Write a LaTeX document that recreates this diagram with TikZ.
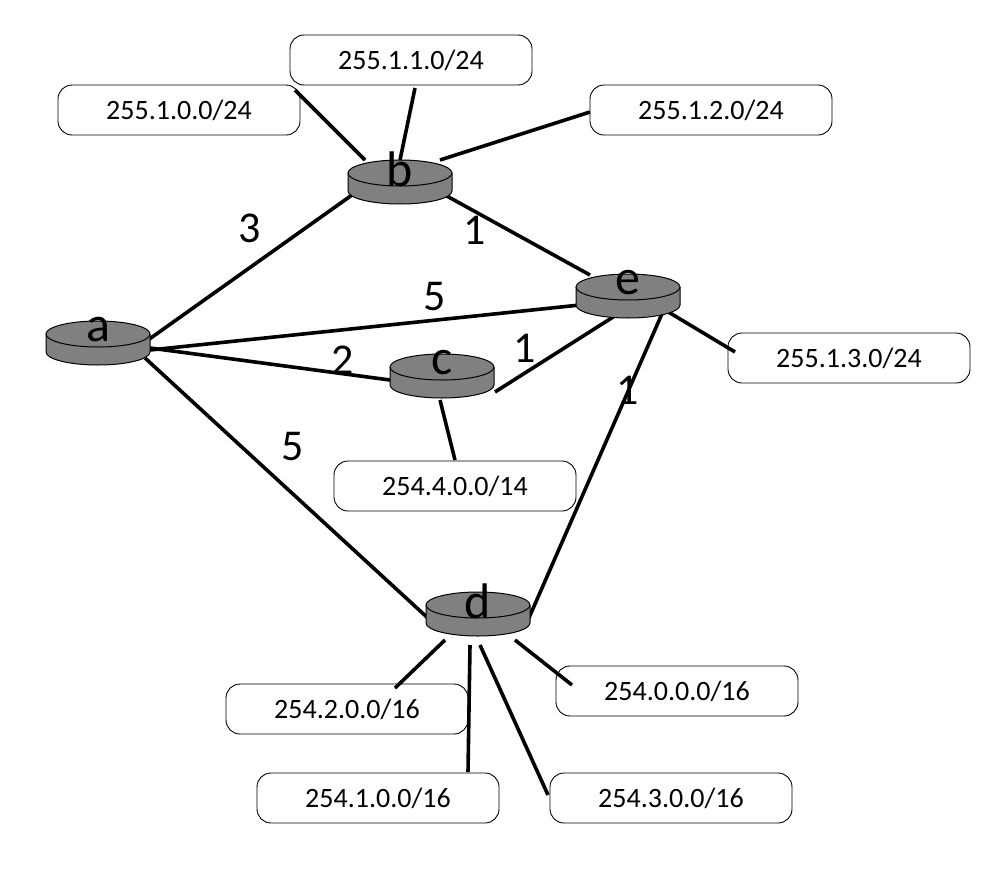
\documentclass[tikz,border=0pt]{standalone}
\usepackage{fontspec}
\setmainfont{Carlito}
\begin{document}
\begin{tikzpicture}[x=1pt,y=-1pt,
  link/.style={line width=3.6pt},
  cloudbox/.style={draw,line width=0.9pt,rounded corners=14pt,fill=white,minimum width=242pt,minimum height=50pt,font=\fontsize{28}{30}\selectfont},
  wlabel/.style={font=\fontsize{44}{46}\selectfont}]
\useasboundingbox (0,0) rectangle (992,870);
\newcommand\myrouter[4]{%
  \fill[gray] (#2-52,#3) -- (#2-52,#3+18) arc[start angle=180,end angle=360,x radius=52,y radius=-13] -- (#2+52,#3) -- cycle;
  \draw[line width=1pt] (#2-52,#3) -- (#2-52,#3+18) arc[start angle=180,end angle=360,x radius=52,y radius=-13] -- (#2+52,#3);
  \draw[line width=1pt,fill=gray] (#2,#3) ellipse[x radius=52,y radius=13];
  \node[inner sep=0,font=\fontsize{50}{52}\selectfont] (#1) at (#2,#3-4) {#4};}
% clouds
\node[cloudbox] (n10) at (179,110) {255.1.0.0/24};
\node[cloudbox] (n11) at (411,60) {255.1.1.0/24};
\node[cloudbox] (n12) at (711,110) {255.1.2.0/24};
\node[cloudbox] (n13) at (849,358) {255.1.3.0/24};
\node[cloudbox] (n44) at (455,486) {254.4.0.0/14};
\node[cloudbox] (n42) at (347,709) {254.2.0.0/16};
\node[cloudbox] (n40) at (677,691) {254.0.0.0/16};
\node[cloudbox] (n41) at (378,798) {254.1.0.0/16};
\node[cloudbox] (n43) at (671,798) {254.3.0.0/16};
% endpoints
\coordinate (a1) at (148,340); \coordinate (a2) at (150,350); \coordinate (a3) at (150,348); \coordinate (a4) at (145,358);
\coordinate (b1) at (352,195); \coordinate (b2) at (445,195); \coordinate (b3) at (365,160); \coordinate (b4) at (400,160); \coordinate (b5) at (440,160);
\coordinate (e1) at (580,305); \coordinate (e2) at (590,275); \coordinate (e3) at (632,305); \coordinate (e4) at (668,300); \coordinate (e5) at (665,310);
\coordinate (c1) at (390,380); \coordinate (c2) at (495,392); \coordinate (c3) at (440,400);
\coordinate (d1) at (430,620); \coordinate (d2) at (528,620); \coordinate (d3) at (445,640); \coordinate (d4) at (470,645); \coordinate (d5) at (480,645); \coordinate (d6) at (515,640);
\coordinate (t10) at (295,90); \coordinate (t11) at (415,88); \coordinate (t12) at (590,112); \coordinate (t13) at (735,352);
\coordinate (t44) at (455,460); \coordinate (t42) at (395,688); \coordinate (t41) at (468,772); \coordinate (t43) at (548,795); \coordinate (t40) at (572,685);
\draw[link] (a1)--(b1); \draw[link] (a2)--(e1); \draw[link] (a3)--(c1); \draw[link] (a4)--(d1);
\draw[link] (b2)--(e2); \draw[link] (c2)--(e3); \draw[link] (e4)--(d2);
\draw[link] (b3)--(t10); \draw[link] (b4)--(t11); \draw[link] (b5)--(t12); \draw[link] (e5)--(t13);
\draw[link] (c3)--(t44); \draw[link] (d3)--(t42); \draw[link] (d4)--(t41); \draw[link] (d5)--(t43); \draw[link] (d6)--(t40);
\myrouter{a}{98}{334}{a}
\myrouter{b}{400}{173}{b}
\myrouter{e}{628}{287}{e}
\myrouter{c}{442}{367}{c}
\myrouter{d}{478}{605}{d}
\node[wlabel] (w1) at (250,228) {3};
\node[wlabel] (w2) at (475,230) {1};
\node[wlabel] (w3) at (435,297) {5};
\node[wlabel] (w4) at (343,360) {2};
\node[wlabel] (w5) at (525,348) {1};
\node[wlabel] (w6) at (628,390) {1};
\node[wlabel] (w7) at (293,447) {5};
\end{tikzpicture}
\end{document}
